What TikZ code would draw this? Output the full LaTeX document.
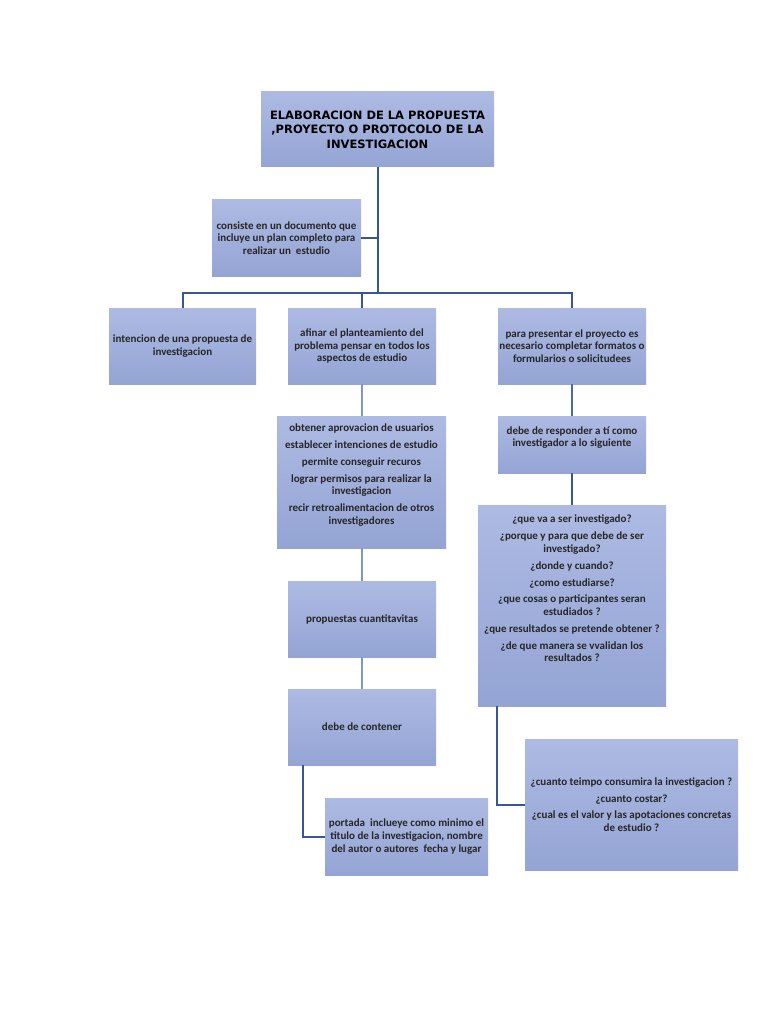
\documentclass[tikz,border=0pt]{standalone}
\usepackage{fontspec}
\setmainfont{Carlito}
\newfontfamily\titlefont{DejaVu Sans}
\definecolor{boxtop}{RGB}{173,186,227}
\definecolor{boxbot}{RGB}{148,164,212}
\definecolor{lndark}{RGB}{55,86,150}
\definecolor{lnmid}{RGB}{76,106,168}
\definecolor{lnlight}{RGB}{128,150,200}
\tikzset{
  box/.style={rectangle, top color=boxtop, bottom color=boxbot, draw=none, inner sep=0pt},
  txt/.style={align=center, font=\bfseries\fontsize{11}{12.6}\selectfont, inner sep=0pt, text=black!85},
  dk/.style={draw=lndark, line width=2pt},
  md/.style={draw=lnmid, line width=1.8pt},
  lt/.style={draw=lnlight, line width=1.6pt}
}
\begin{document}
\begin{tikzpicture}[x=1pt,y=-1pt]
\useasboundingbox[fill=white] (0,0) rectangle (768,1024);
% boxes
\node[box, minimum width=233pt, minimum height=75pt] (title) at (377.5,129.5) {};
\node[box, minimum width=149pt, minimum height=76pt] (cons) at (286.5,238) {};
\node[box, minimum width=147pt, minimum height=76pt] (inten) at (182.5,346) {};
\node[box, minimum width=148pt, minimum height=76pt] (afin) at (362,346) {};
\node[box, minimum width=148pt, minimum height=76pt] (para) at (572,346) {};
\node[box, minimum width=169pt, minimum height=132pt] (obt) at (361.5,482) {};
\node[box, minimum width=148pt, minimum height=57pt] (resp) at (572,444.5) {};
\node[box, minimum width=188pt, minimum height=201pt] (ques) at (572,605.5) {};
\node[box, minimum width=148pt, minimum height=76pt] (prop) at (362,619) {};
\node[box, minimum width=148pt, minimum height=76pt] (cont) at (362,727) {};
\node[box, minimum width=163pt, minimum height=77pt] (port) at (406.5,836.5) {};
\node[box, minimum width=213pt, minimum height=131pt] (cuan) at (631.5,804.5) {};
% texts
\node[txt, font=\titlefont\bfseries\fontsize{11.5}{14.5}\selectfont, text=black] (ttitle) at (title.center) {ELABORACION DE LA PROPUESTA\\,PROYECTO O PROTOCOLO DE LA\\INVESTIGACION};
\node[txt] (tcons) at (cons.center) {consiste en un documento que\\incluye un plan completo para\\realizar un \ estudio};
\node[txt] (tinten) at (inten.center) {intencion de una propuesta de\\investigacion};
\node[txt] (tafin) at (afin.center) {afinar el planteamiento del\\problema pensar en todos los\\aspectos de estudio};
\node[txt] (tpara) at (para.center) {para presentar el proyecto es\\necesario completar formatos o\\formularios o solicitudees};
\node[txt] (tobt) at ([yshift=7pt]obt.center) {obtener aprovacion de usuarios\\[4.3pt]establecer intenciones de estudio\\[4.3pt]permite conseguir recuros\\[4.3pt]lograr permisos para realizar la\\investigacion\\[4.3pt]recir retroalimentacion de otros\\investigadores};
\node[txt] (tresp) at ([yshift=7pt]resp.center) {debe de responder a tí como\\investigador a lo siguiente};
\node[txt] (tques) at ([yshift=17pt]ques.center) {¿que va a ser investigado?\\[4.3pt]¿porque y para que debe de ser\\investigado?\\[4.3pt]¿donde y cuando?\\[4.3pt]¿como estudiarse?\\[4.3pt]¿que cosas o participantes seran\\estudiados ?\\[4.3pt]¿que resultados se pretende obtener ?\\[4.3pt]¿de que manera se vvalidan los\\resultados ?};
\node[txt] (tprop) at (prop.center) {propuestas cuantitavitas};
\node[txt] (tcont) at (cont.center) {debe de contener};
\node[txt] (tport) at (port.center) {portada \ inclueye como minimo el\\titulo de la investigacion, nombre\\del autor o autores \ fecha y lugar};
\node[txt] (tcuan) at (cuan.center) {¿cuanto teimpo consumira la investigacion ?\\[4pt]¿cuanto costar?\\[4pt]¿cual es el valor y las apotaciones concretas\\de estudio ?};
% connectors
\coordinate (j) at (377.5,293);
\draw[dk] (title.south) -- (j);
\draw[dk] (cons.east) -- (cons.east -| j);
\draw[dk] (inten.north) |- (j) -| (para.north);
\draw[dk] (afin.north) -- (afin.north |- j);
\draw[lt] (afin.south) -- (obt.north -| afin.south);
\draw[lt] (obt.south -| prop.north) -- (prop.north);
\draw[lt] (prop.south) -- (cont.north);
\draw[dk] ([xshift=-59pt]cont.south) |- (port.west);
\draw[md] (para.south) -- (resp.north);
\draw[dk] (resp.south) -- (ques.north);
\draw[dk] ([xshift=-75pt]ques.south) |- (cuan.west);
\end{tikzpicture}
\end{document}
